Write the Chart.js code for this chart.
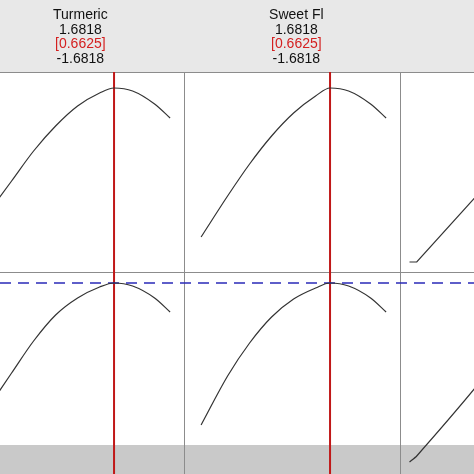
<!DOCTYPE html>
<html><head><meta charset="utf-8">
<script src="https://cdn.jsdelivr.net/npm/chart.js@4"></script>
<style>html,body{margin:0;padding:0;background:#fff}#c{display:block}</style>
</head><body>
<div style="width:474px;height:474px"><canvas id="c"></canvas></div>
<script>
// factor names and settings
const factors = ["Turmeric", "Sweet Fl"];
const highLabel = "1.6818";
const currentLabel = "[0.6625]";
const lowLabel = "-1.6818";
const currentSetting = 0.6625;

// coded levels sampled along each curve
const levels = [-1.6818, -1.2, -0.8, -0.4, 0, 0.4, 0.6625, 1.0, 1.4, 1.6818];
// response readings (plot units, top = small)
const topTurmeric = [217, 181, 151, 126, 106, 93, 88, 91, 104, 118];
const topSweet    = [237, 196, 164, 136, 113, 96, 88, 91, 104, 118];
const botTurmeric = [412, 373, 341, 315, 298, 287, 283, 286, 298, 312];
const botSweet    = [425, 376, 343, 317, 299, 288, 283, 286, 298, 312];
// third factor (partly visible)
const levels3 = [-1.6818, -1.55, -0.4, 0.2];
const top3 = [262, 262, 192, 146];
const bot3 = [462, 456, 382, 338];
const targetLine = 283;

// layout
const unit = 55;
const centers = [77.6, 293.6, 502];
const headerH = 72, rowSplit = 272, bandY = 445;
const dividers = [184, 400];

function series(ci, lv, vals) {
  return lv.map((c, i) => ({ x: centers[ci] + c * unit, y: vals[i] }));
}
const line = (data, color, extra) => Object.assign({ data, borderColor: color, borderWidth: 1.2, pointRadius: 0, showLine: true, fill: false, cubicInterpolationMode: "monotone" }, extra || {});

const bg = {
  id: "bg",
  beforeDatasetsDraw(ch) {
    const c = ch.ctx, x = ch.scales.x, y = ch.scales.y;
    c.save();
    c.fillStyle = "#e8e8e8"; c.fillRect(0, 0, 474, y.getPixelForValue(headerH));
    c.fillStyle = "#c9c9c9"; c.fillRect(0, y.getPixelForValue(bandY), 474, 40);
    c.strokeStyle = "#8c8c8c"; c.lineWidth = 1;
    c.beginPath();
    [headerH, rowSplit].forEach(v => { const p = Math.round(y.getPixelForValue(v)) + 0.5; c.moveTo(0, p); c.lineTo(474, p); });
    dividers.forEach(v => { const p = Math.round(x.getPixelForValue(v)) + 0.5; c.moveTo(p, y.getPixelForValue(headerH)); c.lineTo(p, 474); });
    c.stroke();
    c.font = "14px 'Liberation Sans', Arial, sans-serif"; c.textAlign = "center"; c.textBaseline = "middle";
    factors.forEach((f, i) => {
      const cx = x.getPixelForValue(centers[i] + 0.05 * unit);
      c.fillStyle = "#111"; c.fillText(f, cx, 15); c.fillText(highLabel, cx, 30);
      c.fillStyle = "#d42020"; c.fillText(currentLabel, cx, 44);
      c.fillStyle = "#111"; c.fillText(lowLabel, cx, 59);
    });
    c.restore();
  }
};

const datasets = [
  line(series(0, levels, topTurmeric), "#333"),
  line(series(1, levels, topSweet), "#333"),
  line(series(0, levels, botTurmeric), "#333"),
  line(series(1, levels, botSweet), "#333"),
  line(series(2, levels3, top3), "#333", { cubicInterpolationMode: "default", tension: 0 }),
  line(series(2, levels3, bot3), "#333", { cubicInterpolationMode: "default", tension: 0.2 }),
  line([{ x: 0, y: targetLine }, { x: 474, y: targetLine }], "#2a2ab8", { borderWidth: 1.6, borderDash: [11, 7] }),
  line(series(0, [currentSetting, currentSetting], [headerH, 474]), "#c01818", { borderWidth: 2 }),
  line(series(1, [currentSetting, currentSetting], [headerH, 474]), "#c01818", { borderWidth: 2 })
];

new Chart(document.getElementById("c"), {
  type: "scatter",
  data: { datasets },
  options: {
    responsive: true, maintainAspectRatio: false, animation: false,
    layout: { padding: 0 },
    plugins: { legend: { display: false }, tooltip: { enabled: false } },
    scales: {
      x: { type: "linear", min: 0, max: 474, display: false },
      y: { type: "linear", min: 0, max: 474, reverse: true, display: false }
    }
  },
  plugins: [bg]
});
</script>
</body></html>
